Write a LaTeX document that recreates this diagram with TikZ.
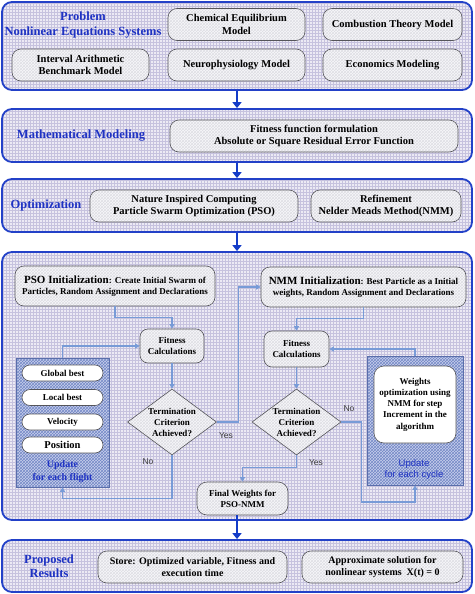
\documentclass[tikz,border=0pt]{standalone}
\usepackage{fontspec}
\setmainfont{Liberation Serif}
\newfontfamily\arialfont{Liberation Sans}
\usetikzlibrary{shapes.geometric,arrows.meta,patterns}
\definecolor{secborder}{RGB}{35,65,200}
\definecolor{titleblue}{RGB}{30,50,195}
\definecolor{secfill}{RGB}{236,234,244}
\definecolor{gridcol}{RGB}{198,194,222}
\definecolor{boxfill}{RGB}{248,248,250}
\definecolor{hatchcol}{RGB}{222,222,228}
\definecolor{boxline}{RGB}{85,85,90}
\definecolor{conncol}{RGB}{120,155,215}
\definecolor{bigarrcol}{RGB}{20,60,200}
\definecolor{updfill}{RGB}{200,208,236}
\definecolor{updpat}{RGB}{115,135,198}
\definecolor{updline}{RGB}{90,110,170}
\definecolor{labcol}{RGB}{60,60,60}
\begin{document}
\begin{tikzpicture}[x=1pt,y=-1pt,
  sec/.style={draw=secborder, line width=1.8pt, rounded corners=10pt,
    preaction={fill=secfill}, pattern=grid, pattern color=gridcol, inner sep=0pt},
  ttl/.style={text=titleblue, align=center, font=\fontsize{12.5}{15}\selectfont\bfseries},
  ibox/.style={draw=boxline, line width=0.6pt, rounded corners=9pt,
    preaction={fill=boxfill}, pattern=crosshatch, pattern color=hatchcol,
    align=center, inner sep=1pt},
  bigtxt/.style={font=\fontsize{10.5}{12.7}\selectfont\bfseries},
  smtxt/.style={font=\fontsize{9}{11}\selectfont\bfseries},
  dia/.style={diamond, draw=boxline, line width=0.6pt, preaction={fill=boxfill},
    pattern=crosshatch, pattern color=hatchcol, aspect=1.35, inner sep=0pt,
    minimum width=89pt, minimum height=66pt, align=center,
    font=\fontsize{9}{11}\selectfont\bfseries},
  upd/.style={draw=updline, line width=0.6pt, preaction={fill=updfill},
    pattern=crosshatch, pattern color=updpat, inner sep=0pt},
  pill/.style={draw=boxline, line width=0.6pt, rounded corners=8pt, fill=white,
    minimum width=81pt, minimum height=16pt, inner sep=0pt,
    font=\fontsize{9}{11}\selectfont\bfseries},
  conn/.style={draw=conncol, line width=1.2pt, -{Triangle[width=5pt,length=4.5pt]}},
  bigarr/.style={draw=bigarrcol, line width=2.6pt, -{Triangle[width=9pt,length=6pt]}},
  lab/.style={text=labcol, font=\arialfont\fontsize{8.5}{10}\selectfont, inner sep=0pt}
]
\useasboundingbox (0,0) rectangle (474,594);
\fill[white] (0,0) rectangle (474,594);

% ---------- sections ----------
\node[sec, minimum width=470pt, minimum height=88pt] (s1) at (237,46) {};
\node[sec, minimum width=470pt, minimum height=53pt] (s2) at (237,135.5) {};
\node[sec, minimum width=470pt, minimum height=53pt] (s3) at (237,205.5) {};
\node[sec, minimum width=470pt, minimum height=268pt] (s4) at (237,386) {};
\node[sec, minimum width=470pt, minimum height=52pt] (s5) at (237,566) {};

% ---------- section 1 ----------
\node[ttl] (t1) at (83,25) {Problem\\Nonlinear Equations Systems};
\node[ibox, bigtxt, minimum width=137pt, minimum height=32pt] (chem) at (236.5,24.5) {Chemical Equilibrium\\Model};
\node[ibox, bigtxt, minimum width=139pt, minimum height=32pt] (comb) at (392.5,24.5) {Combustion Theory Model};
\node[ibox, bigtxt, minimum width=137pt, minimum height=32pt] (intv) at (80.5,65) {Interval Arithmetic\\Benchmark Model};
\node[ibox, bigtxt, minimum width=137pt, minimum height=32pt] (neuro) at (236.5,65) {Neurophysiology Model};
\node[ibox, bigtxt, minimum width=139pt, minimum height=32pt] (econ) at (392.5,65) {Economics Modeling};

% ---------- section 2 ----------
\node[ttl] (t2) at (81,136) {Mathematical Modeling};
\node[ibox, bigtxt, minimum width=288pt, minimum height=32pt] (fitf) at (314,136) {Fitness function formulation\\Absolute or Square Residual Error Function};

% ---------- section 3 ----------
\node[ttl] (t3) at (46,205) {Optimization};
\node[ibox, bigtxt, minimum width=208pt, minimum height=32pt] (pso) at (194,206) {Nature Inspired Computing\\Particle Swarm Optimization (PSO)};
\node[ibox, bigtxt, minimum width=150pt, minimum height=32pt] (refn) at (386,206) {Refinement\\Nelder Meads Method(NMM)};

% ---------- section 4 ----------
\node[ibox, smtxt, minimum width=200pt, minimum height=40pt] (psoinit) at (115,286)
  {{\fontsize{11}{11}\selectfont PSO Initialization}: Create Initial Swarm of\\Particles, Random Assignment and Declarations};
\node[ibox, smtxt, minimum width=205pt, minimum height=40pt] (nmminit) at (363.5,287)
  {{\fontsize{11}{11}\selectfont NMM Initialization}: Best Particle as a Initial\\weights, Random Assignment and Declarations};
\node[ibox, smtxt, rounded corners=8pt, minimum width=64pt, minimum height=34pt] (fitL) at (172,346) {Fitness\\Calculations};
\node[ibox, smtxt, rounded corners=8pt, minimum width=65pt, minimum height=36pt] (fitR) at (296.5,349) {Fitness\\Calculations};
\node[dia] (diaL) at (172,422) {Termination\\Criterion\\Achieved?};
\node[dia] (diaR) at (296.5,422) {Termination\\Criterion\\Achieved?};

% left update box
\node[upd, minimum width=93pt, minimum height=129pt] (updL) at (62.5,422.5) {};
\node[pill] (gbest) at (62.5,373) {Global best};
\node[pill] (lbest) at (62.5,397.5) {Local best};
\node[pill] (vel) at (62.5,422) {Velocity};
\node[pill, font=\fontsize{10.5}{12}\selectfont\bfseries] (pos) at (62.5,445) {Position};
\node[text=titleblue, align=center, inner sep=0pt, font=\fontsize{10}{13}\selectfont\bfseries] (updLlab) at (62.5,472) {Update\\for each flight};

% right update box
\node[upd, minimum width=96pt, minimum height=129pt] (updR) at (415,420.5) {};
\node[ibox, smtxt, rounded corners=10pt, fill=white, minimum width=82pt, minimum height=77pt,
  font=\fontsize{9}{11.3}\selectfont\bfseries] (wopt) at (415,404.5)
  {Weights\\optimization using\\NMM for step\\Increment in the\\algorithm};
\node[text=titleblue, align=center, inner sep=0pt, font=\arialfont\fontsize{9.5}{11.5}\selectfont] (updRlab) at (414,469.5) {Update\\for each cycle};

\node[ibox, smtxt, rounded corners=10pt, minimum width=91pt, minimum height=33pt] (fw) at (242.5,498.5) {Final Weights for\\PSO-NMM};

% connectors
\draw[conn] (psoinit.south) -- ++(0,11) -| (fitL.north);
\draw[conn] (updL.north) |- (fitL.west);
\draw[conn] (fitL.south) -- (diaL.north);
\draw[conn] (diaL.east) -- ++(21.5,0) |- (nmminit.west);
\draw[conn] (diaL.south) -- ++(0,43) -| (updL.south);
\draw[conn] (nmminit.south) -- ++(0,11) -| (fitR.north);
\draw[conn] (updR.north) |- (fitR.east);
\draw[conn] (fitR.south) -- (diaR.north);
\draw[conn] (diaR.east) -- ++(20,0) -- ++(0,80) -| (updR.south);
\draw[conn] (diaR.south) -- ++(0,12) -| (fw.north);

\node[lab] (yesL) at (226,436) {Yes};
\node[lab] (noL) at (148,462) {No};
\node[lab] (noR) at (349,409) {No};
\node[lab] (yesR) at (316,463) {Yes};

% ---------- section 5 ----------
\node[ttl, font=\fontsize{12.5}{14}\selectfont\bfseries] (t5) at (49,566) {Proposed\\Results};
\node[ibox, font=\fontsize{10}{12.5}\selectfont\bfseries, minimum width=189pt, minimum height=32pt] (store) at (192.5,567) {Store: Optimized variable, Fitness and\\execution time};
\node[ibox, font=\fontsize{10}{12.5}\selectfont\bfseries, minimum width=161pt, minimum height=32pt] (approx) at (382.5,567) {Approximate solution for\\nonlinear systems\enspace X(t) = 0};

% ---------- big arrows ----------
\draw[bigarr] (s1.south) -- (s2.north);
\draw[bigarr] (s2.south) -- (s3.north);
\draw[bigarr] (s3.south) -- (s4.north);
\draw[bigarr] (fw.south -| s5.north) -- (s5.north);
\end{tikzpicture}
\end{document}
